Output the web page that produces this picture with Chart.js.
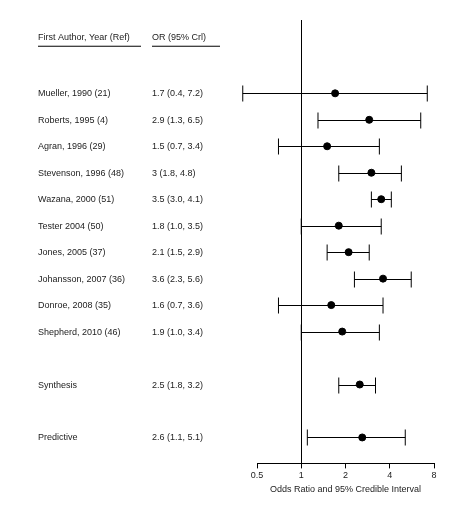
<!DOCTYPE html>
<html><head><meta charset="utf-8">
<script src="https://cdn.jsdelivr.net/npm/chart.js@4"></script>
<style>html,body{margin:0;padding:0;background:#fff}#wrap{width:474px;height:509px}</style>
</head><body><div id="wrap"><canvas id="c"></canvas></div>
<script>
var labels = ['Mueller, 1990 (21)','Roberts, 1995 (4)','Agran, 1996 (29)','Stevenson, 1996 (48)','Wazana, 2000 (51)','Tester 2004 (50)','Jones, 2005 (37)','Johansson, 2007 (36)','Donroe, 2008 (35)','Shepherd, 2010 (46)','Synthesis','Predictive'];
var orText = ['1.7 (0.4, 7.2)','2.9 (1.3, 6.5)','1.5 (0.7, 3.4)','3 (1.8, 4.8)','3.5 (3.0, 4.1)','1.8 (1.0, 3.5)','2.1 (1.5, 2.9)','3.6 (2.3, 5.6)','1.6 (0.7, 3.6)','1.9 (1.0, 3.4)','2.5 (1.8, 3.2)','2.6 (1.1, 5.1)'];
var rows = [0,1,2,3,4,5,6,7,8,9,11,13];
var est = [1.7,2.9,1.5,3,3.5,1.8,2.1,3.6,1.6,1.9,2.5,2.6];
var lo  = [0.4,1.3,0.7,1.8,3.0,1.0,1.5,2.3,0.7,1.0,1.8,1.1];
var hi  = [7.2,6.5,3.4,4.8,4.1,3.5,2.9,5.6,3.6,3.4,3.2,5.1];
var tickVals = [0.5,1,2,4,8];

var forest = {
  id:'forest',
  afterDatasetsDraw: function(chart){
    var ctx = chart.ctx, x = chart.scales.x, y = chart.scales.y;
    ctx.save();
    ctx.strokeStyle='#000'; ctx.lineWidth=1;
    // reference line at 1
    var x1 = Math.round(x.getPixelForValue(1))+0.5;
    ctx.beginPath(); ctx.moveTo(x1, chart.chartArea.top); ctx.lineTo(x1, chart.chartArea.bottom); ctx.stroke();
    for (var i=0;i<rows.length;i++){
      var py = Math.round(y.getPixelForValue(rows[i]))+0.5;
      var a = x.getPixelForValue(lo[i]), b = x.getPixelForValue(hi[i]);
      ctx.beginPath();
      ctx.moveTo(a,py); ctx.lineTo(b,py);
      ctx.moveTo(a,py-8); ctx.lineTo(a,py+8);
      ctx.moveTo(b,py-8); ctx.lineTo(b,py+8);
      ctx.stroke();
      ctx.fillStyle='#222'; ctx.font='9px "Liberation Sans", Arial'; ctx.textBaseline='middle';
      ctx.fillText(labels[i], 38, py);
      ctx.fillText(orText[i], 152, py);
    }
    var hy = y.getPixelForValue(-2.1);
    ctx.fillText('First Author, Year (Ref)', 38, hy);
    ctx.fillText('OR (95% Crl)', 152, hy);
    ctx.beginPath();
    ctx.moveTo(38, hy+8.5); ctx.lineTo(141, hy+8.5);
    ctx.moveTo(152, hy+8.5); ctx.lineTo(220, hy+8.5);
    ctx.stroke();
    ctx.restore();
  }
};

new Chart(document.getElementById('c'), {
  type:'scatter',
  data:{datasets:[{
    data: rows.map(function(r,i){return {x:est[i], y:r};}),
    backgroundColor:'#000', borderColor:'#000', pointRadius:3.5, clip:false
  }]},
  options:{
    responsive:true, maintainAspectRatio:false, animation:false,
    layout:{padding:{left:257, right:40, top:20, bottom:10}},
    plugins:{legend:{display:false}, tooltip:{enabled:false}},
    scales:{
      x:{type:'logarithmic', min:0.5, max:8,
        afterBuildTicks:function(s){ s.ticks = tickVals.map(function(v){return {value:v};}); },
        ticks:{color:'#222', font:{size:9, family:'"Liberation Sans", Arial'}, padding:2,
          callback:function(v){ return String(v); }},
        grid:{drawOnChartArea:false, tickLength:5, color:'#000'},
        border:{color:'#000'},
        title:{display:true, text:'Odds Ratio and 95% Credible Interval', color:'#222', font:{size:9, family:'"Liberation Sans", Arial'}, padding:{top:1}}
      },
      y:{type:'linear', display:false, reverse:true, min:-2.77, max:13.98}
    }
  },
  plugins:[forest]
});
</script></body></html>
